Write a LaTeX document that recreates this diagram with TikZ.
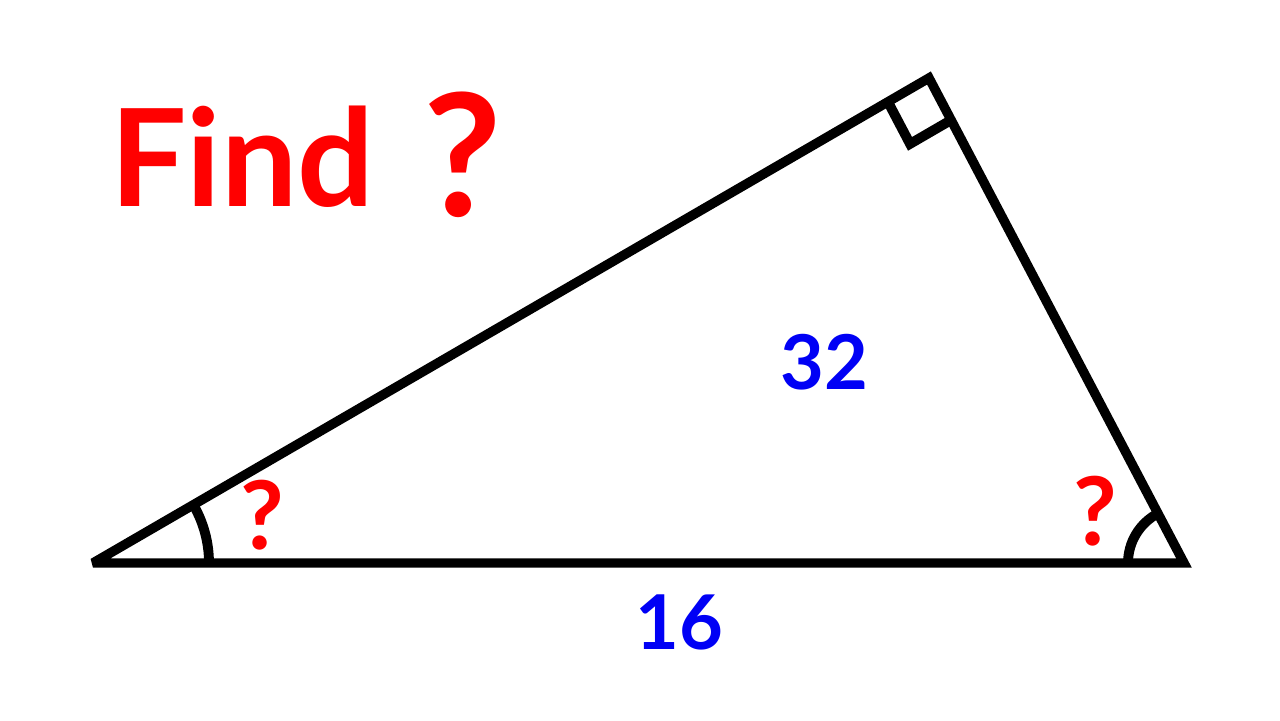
\documentclass[tikz,border=0pt]{standalone}
\usepackage{fontspec}
\setmainfont{Lato}
\usetikzlibrary{positioning, calc}
\definecolor{askred}{RGB}{255,0,0}
\definecolor{valblue}{RGB}{0,0,245}

\tikzset{
    side/.style={line width=5.4pt, line join=miter, miter limit=2},
    anglemark/.style={line width=5.6pt},
    ask/.style={text=askred, font=\fontsize{54}{54}\selectfont\bfseries, inner sep=0pt},
    val/.style={text=valblue, font=\fontsize{43}{43}\selectfont\bfseries, inner sep=0pt}
}

\begin{document}
\begin{tikzpicture}
    \useasboundingbox (0,0) rectangle (25.6,14.4);
    \coordinate (a) at (1.86,3.14);
    \coordinate (b) at (23.68,3.14);
    \coordinate (c) at (18.58,12.84);
    \draw[side] (a) -- (b) -- (c) -- cycle;
    % right angle at c
    \coordinate (ca) at ($(c)!0.95cm!(a)$);
    \coordinate (cb) at ($(c)!0.95cm!(b)$);
    \coordinate (cq) at ($(ca)+(cb)-(c)$);
    \draw[anglemark] (ca) -- (cq) -- (cb);
    % angle arcs
    \draw[anglemark] ($(a)+(2.32,0)$) arc[start angle=0, end angle=30.1, radius=2.32cm];
    \draw[anglemark] ($(b)+(117.7:1.12)$) arc[start angle=117.7, end angle=180, radius=1.12cm];
    \node[ask] (qa) at (5.24,4.10) {?};
    \node[ask] (qb) at (21.9,4.18) {?};
    \node[val] (area) at (16.48,7.16) {32};
    \node[val] (base) at (13.58,1.96) {16};
    \node[text=askred, font=\fontsize{77}{77}\selectfont\bfseries, inner sep=0pt, anchor=base west] (find) at (2.2,10.26) {Find};
    \node[text=askred, font=\fontsize{97}{97}\selectfont\bfseries, inner sep=0pt, anchor=base] (what) at (9.25,10.06) {?};
\end{tikzpicture}
\end{document}
